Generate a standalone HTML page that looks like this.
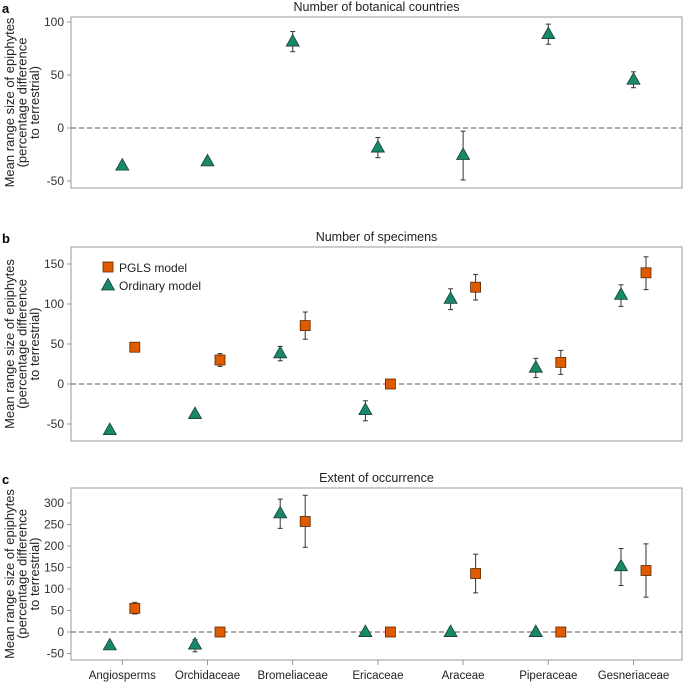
<!DOCTYPE html>
<html><head><meta charset="utf-8"><style>
html,body{margin:0;padding:0;background:#fff;}
svg{display:block;font-family:"Liberation Sans",sans-serif;}
</style></head><body>
<svg id="chart" width="685" height="682" viewBox="0 0 685 682" xmlns="http://www.w3.org/2000/svg"></svg>
<script>
const categories = ["Angiosperms","Orchidaceae","Bromeliaceae","Ericaceae","Araceae","Piperaceae","Gesneriaceae"];
const aTri = [-35,-31,82,-18,-25,89,46];
const aTriLo = [-35,-33,72,-28,-49,79,38];
const aTriHi = [-35,-29,91,-9,-3,98,53];
const bTri = [-57,-37,39,-32,107,21,112];
const bTriLo = [-57,-37,29,-46,93,8,97];
const bTriHi = [-57,-37,47,-21,119,32,124];
const bSq = [46,30,73,0,121,27,139];
const bSqLo = [43,22,56,0,105,12,118];
const bSqHi = [49,38,90,0,137,42,159];
const cTri = [-30,-28,277,1,1,1,154];
const cTriLo = [-30,-46,241,1,1,1,108];
const cTriHi = [-30,-18,309,1,1,1,194];
const cSq = [55,0,257,0,136,0,143];
const cSqLo = [42,0,197,0,91,0,81];
const cSqHi = [69,0,318,0,181,0,205];
const aTicks = [100,50,0,-50];
const bTicks = [150,100,50,0,-50];
const cTicks = [300,250,200,150,100,50,0,-50];

const NS="http://www.w3.org/2000/svg";
const svg=document.getElementById('chart');
const GREEN="#17896b", ORANGE="#e05a00";
function mk(tag,attrs,parent){const e=document.createElementNS(NS,tag);for(const k in attrs)e.setAttribute(k,attrs[k]);(parent||svg).appendChild(e);return e;}
const X0=71, X1=682;
function xPos(i){return 122.3+i*85.2;}

function panel(cfg){
  const g=mk('g',{});
  
  
  const y=v=>cfg.zeroY - v*cfg.scale;
  const lt=mk('text',{x:2,y:cfg.top-4,'font-size':13,'font-weight':'bold',fill:'#000'},g);lt.textContent=cfg.letter;
  
  
  const tt=mk('text',{x:(X0+X1)/2,y:cfg.top-6,'font-size':12.5,'text-anchor':'middle',fill:'#222'},g);tt.textContent=cfg.title;
  
  
  const fr=mk('rect',{x:X0,y:cfg.top,width:X1-X0,height:cfg.bottom-cfg.top,fill:'none',stroke:'#999','stroke-width':1},g);
  
  
  cfg.ticks.forEach(t=>{
    mk('line',{x1:X0-4,x2:X0,y1:y(t),y2:y(t),stroke:'#999'},g);
    const tl=mk('text',{x:X0-7,y:y(t)+4,'font-size':12,'text-anchor':'end',fill:'#333'},g);tl.textContent=t;
    
    
  });
  const zl=mk('line',{x1:X0,x2:X1,y1:y(0),y2:y(0),stroke:'#555','stroke-dasharray':'5,3','stroke-width':1},g);
  
  
  const cy=(cfg.top+cfg.bottom)/2;
  const yl=mk('text',{transform:`translate(14,${cy}) rotate(-90)`,'font-size':13,'text-anchor':'middle',fill:'#222'},g);
  
  
  ["Mean range size of epiphytes","(percentage difference","to terrestrial)"].forEach((s,i)=>{const ts=mk('tspan',{x:0,dy:i?12.5:0},yl);ts.textContent=s;});
  function err(x,lo,hi){
    if(hi-lo<0.5) return;
    mk('line',{x1:x,x2:x,y1:y(lo),y2:y(hi),stroke:'#333','stroke-width':1},g);
    mk('line',{x1:x-2.5,x2:x+2.5,y1:y(lo),y2:y(lo),stroke:'#333'},g);
    mk('line',{x1:x-2.5,x2:x+2.5,y1:y(hi),y2:y(hi),stroke:'#333'},g);
  }
  const off=cfg.sq?12.5:0;
  cfg.tri.forEach((v,i)=>{
    const x=xPos(i)-off;
    err(x,cfg.triLo[i],cfg.triHi[i]);
    const yy=y(v);
    const p=mk('polygon',{points:`${x},${yy-6.5} ${x-6.5},${yy+5} ${x+6.5},${yy+5}`,fill:GREEN,stroke:'#1d3d33','stroke-width':0.8},g);
    
    
  });
  if(cfg.sq) cfg.sq.forEach((v,i)=>{
    const x=xPos(i)+off;
    err(x,cfg.sqLo[i],cfg.sqHi[i]);
    const yy=y(v);
    const r=mk('rect',{x:x-5,y:yy-5,width:10,height:10,fill:ORANGE,stroke:'#5a2a00','stroke-width':0.8},g);
    
    
  });
  if(cfg.xlabels){
    categories.forEach((c,i)=>{
      mk('line',{x1:xPos(i),x2:xPos(i),y1:cfg.bottom,y2:cfg.bottom+5,stroke:'#999'},g);
      const t=mk('text',{x:xPos(i),y:cfg.bottom+19,'font-size':11.5,'text-anchor':'middle',fill:'#222'},g);t.textContent=c;
      
      
    });
  }
}
panel({letter:'a',title:'Number of botanical countries',top:17,bottom:188,zeroY:128,scale:1.06,ticks:aTicks,tri:aTri,triLo:aTriLo,triHi:aTriHi});
panel({letter:'b',title:'Number of specimens',top:247,bottom:441,zeroY:384,scale:0.8,ticks:bTicks,tri:bTri,triLo:bTriLo,triHi:bTriHi,sq:bSq,sqLo:bSqLo,sqHi:bSqHi});
panel({letter:'c',title:'Extent of occurrence',top:488,bottom:660,zeroY:632,scale:0.43,ticks:cTicks,tri:cTri,triLo:cTriLo,triHi:cTriHi,sq:cSq,sqLo:cSqLo,sqHi:cSqHi,xlabels:true});

const lg=mk('g',{});


mk('rect',{x:103,y:262,width:10,height:10,fill:ORANGE,stroke:'#5a2a00','stroke-width':0.8},lg);
const l1=mk('text',{x:119,y:272,'font-size':12,fill:'#222'},lg);l1.textContent='PGLS model';


mk('polygon',{points:'108,278.5 101.5,290 114.5,290',fill:GREEN,stroke:'#1d3d33','stroke-width':0.8},lg);
const l2=mk('text',{x:119,y:290,'font-size':12,fill:'#222'},lg);l2.textContent='Ordinary model';


</script>
</body></html>
